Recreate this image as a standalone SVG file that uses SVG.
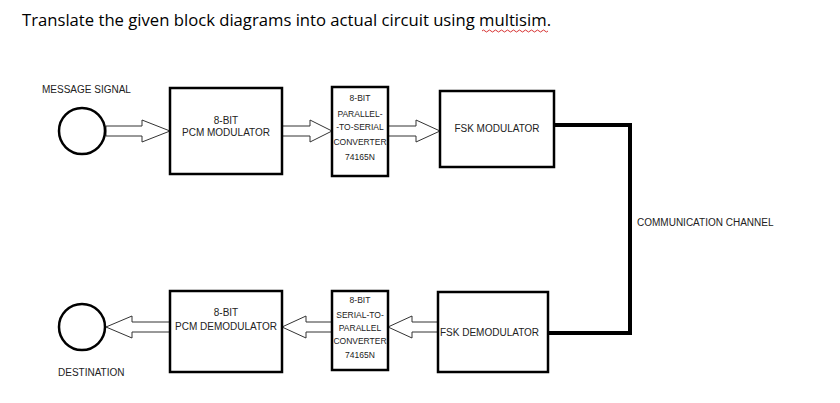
<svg xmlns="http://www.w3.org/2000/svg" width="840" height="403" viewBox="0 0 840 403">
<style>
text{font-family:"Liberation Sans",Arial,sans-serif;fill:#222}
.s{font-size:10px}
.xs{font-size:8.5px}
.n{fill:#fff;stroke:#000;stroke-width:2.5}
.a{fill:#fff;stroke:#333;stroke-width:1}
.c{fill:none;stroke:#000;stroke-width:4}
</style>
<rect width="840" height="403" fill="#fff"/>
<text x="22" y="26" textLength="529" lengthAdjust="spacingAndGlyphs" style="font-family:'Open Sans','Liberation Sans',sans-serif;font-size:16px;fill:#000">Translate the given block diagrams into actual circuit using multisim.</text>
<path d="M482 31 q1.5 -2 3 0 t3 0 t3 0 t3 0 t3 0 t3 0 t3 0 t3 0 t3 0 t3 0 t3 0 t3 0 t3 0 t3 0 t3 0 t3 0 t3 0 t3 0 t3 0 t3 0 t3 0 t3 0" fill="none" stroke="#c00" stroke-width="0.8"/>
<text x="42" y="93" class="s">MESSAGE SIGNAL</text>
<text x="58" y="376" class="s">DESTINATION</text>
<g id="connectors">
<polygon class="a" points="106,126 142,126 142,120 170,131 142,142 142,136 106,136"/>
<polygon class="a" points="282,126 310,126 310,120 332,131 310,142 310,136 282,136"/>
<polygon class="a" points="388,126 416,126 416,120 440,131 416,142 416,136 388,136"/>
<polygon class="a" points="438,322 412,322 412,316 388,327 412,338 412,332 438,332"/>
<polygon class="a" points="332,322 306,322 306,316 282,327 306,338 306,332 332,332"/>
<polygon class="a" points="170,322 132,322 132,316 106,327 132,338 132,332 170,332"/>
<polyline class="c" points="554,125 630,125 630,333 548,333"/>
<text x="637" y="226" class="s">COMMUNICATION CHANNEL</text>
</g>
<g id="message-signal"><circle class="n" cx="82" cy="131" r="23"/></g>
<g id="pcm-mod"><rect class="n" x="170" y="88" width="112" height="86"/>
<text x="226" y="124" class="s" text-anchor="middle">8-BIT</text>
<text x="226" y="136" class="s" text-anchor="middle">PCM MODULATOR</text></g>
<g id="p2s"><rect class="n" x="332" y="87" width="56" height="89"/>
<text x="360" y="101" class="xs" text-anchor="middle">8-BIT</text>
<text x="360" y="117" class="xs" text-anchor="middle">PARALLEL-</text>
<text x="360" y="130" class="xs" text-anchor="middle">-TO-SERIAL</text>
<text x="360" y="145" class="xs" text-anchor="middle">CONVERTER</text>
<text x="360" y="160" class="xs" text-anchor="middle">74165N</text></g>
<g id="fsk-mod"><rect class="n" x="440" y="91" width="114" height="76"/>
<text x="497" y="132" class="s" text-anchor="middle">FSK MODULATOR</text></g>
<g id="fsk-demod"><rect class="n" x="438" y="292" width="110" height="80"/>
<text x="440" y="336" class="s">FSK DEMODULATOR</text></g>
<g id="s2p"><rect class="n" x="332" y="291" width="56" height="79"/>
<text x="360" y="303" class="xs" text-anchor="middle">8-BIT</text>
<text x="360" y="318" class="xs" text-anchor="middle">SERIAL-TO-</text>
<text x="360" y="331" class="xs" text-anchor="middle">PARALLEL</text>
<text x="360" y="344" class="xs" text-anchor="middle">CONVERTER</text>
<text x="360" y="358" class="xs" text-anchor="middle">74165N</text></g>
<g id="pcm-demod"><rect class="n" x="170" y="291" width="112" height="81"/>
<text x="226" y="316" class="s" text-anchor="middle">8-BIT</text>
<text x="226" y="330" class="s" text-anchor="middle">PCM DEMODULATOR</text></g>
<g id="destination"><circle class="n" cx="82" cy="327" r="23"/></g>
</svg>
